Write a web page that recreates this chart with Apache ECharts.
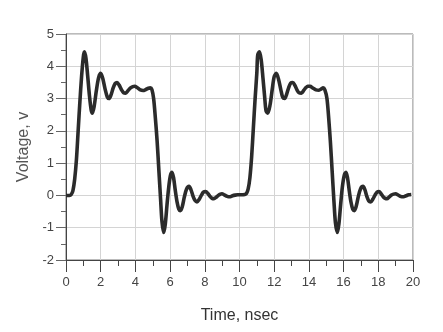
<!DOCTYPE html>
<html><head><meta charset="utf-8">
<script src="https://cdn.jsdelivr.net/npm/echarts@6/dist/echarts.min.js"></script>
<style>html,body{margin:0;padding:0;background:#fff}#c{width:443px;height:332px}</style>
</head><body><div id="c"></div>
<script>
var timeNs = [0,0.2,0.3,0.4,0.5,0.6,0.7,0.8,0.9,1.0,1.06,1.15,1.25,1.35,1.45,1.52,1.62,1.75,1.88,2.0,2.12,2.25,2.38,2.48,2.6,2.72,2.84,2.94,3.06,3.2,3.32,3.44,3.58,3.72,3.85,3.96,4.1,4.25,4.44,4.6,4.75,4.86,4.95,5.05,5.15,5.25,5.35,5.45,5.53,5.63,5.72,5.82,5.92,6.02,6.11,6.2,6.3,6.4,6.5,6.59,6.7,6.82,6.95,7.09,7.2,7.32,7.44,7.55,7.68,7.8,7.92,8.05,8.18,8.3,8.42,8.53,8.65,8.78,8.9,8.99,9.12,9.25,9.36,9.47,9.6,9.75,9.9,10.1,10.3,
10.4,10.5,10.6,10.7,10.8,10.9,11.0,11.05,11.15,11.25,11.35,11.45,11.53,11.63,11.76,11.89,12.0,12.12,12.25,12.38,12.49,12.6,12.72,12.84,12.95,13.07,13.2,13.32,13.43,13.57,13.71,13.83,13.93,14.07,14.22,14.41,14.58,14.72,14.82,14.92,15.04,15.14,15.24,15.34,15.44,15.53,15.64,15.73,15.83,15.93,16.04,16.14,16.23,16.33,16.43,16.53,16.62,16.73,16.85,16.98,17.12,17.23,17.34,17.45,17.56,17.69,17.81,17.93,18.04,18.16,18.28,18.4,18.5,18.62,18.76,18.88,19.0,19.12,19.24,19.35,19.46,19.6,19.75,19.9];
var voltage = [0,0,0.03,0.15,0.5,1.1,2.0,2.9,3.7,4.3,4.45,4.25,3.7,3.1,2.65,2.55,2.75,3.25,3.65,3.78,3.62,3.3,3.05,3.0,3.12,3.33,3.47,3.5,3.42,3.27,3.18,3.17,3.25,3.33,3.37,3.38,3.34,3.28,3.25,3.28,3.32,3.33,3.28,3.0,2.4,1.7,0.8,-0.1,-0.8,-1.15,-0.9,-0.3,0.25,0.62,0.72,0.55,0.15,-0.2,-0.42,-0.47,-0.35,-0.05,0.2,0.28,0.18,-0.02,-0.16,-0.2,-0.12,0.0,0.1,0.12,0.06,-0.03,-0.09,-0.1,-0.06,0.0,0.04,0.05,0.02,-0.02,-0.04,-0.04,-0.01,0.01,0.02,0.02,0.03,
0.06,0.2,0.55,1.2,2.1,3.0,3.8,4.35,4.45,4.2,3.65,3.05,2.62,2.55,2.8,3.3,3.68,3.78,3.6,3.28,3.04,3.0,3.14,3.35,3.48,3.5,3.4,3.26,3.18,3.17,3.26,3.34,3.38,3.38,3.33,3.27,3.26,3.3,3.33,3.27,3.0,2.4,1.65,0.75,-0.15,-0.85,-1.15,-0.88,-0.28,0.27,0.63,0.72,0.53,0.13,-0.22,-0.43,-0.47,-0.33,-0.03,0.21,0.28,0.17,-0.03,-0.17,-0.2,-0.11,0.01,0.1,0.12,0.05,-0.04,-0.09,-0.1,-0.05,0.01,0.04,0.05,0.02,-0.02,-0.04,-0.04,-0.01,0.02,0.03];
var xTicks = [0,2,4,6,8,10,12,14,16,18,20];
var yTicks = [-2,-1,0,1,2,3,4,5];

var pts = timeNs.map(function(t,i){return [t, voltage[i]];});
var FF = "'Liberation Sans',Arial,sans-serif";
var chart = echarts.init(document.getElementById('c'), null, {renderer:'canvas'});
chart.setOption({
  backgroundColor:'#fff',
  animation:false,
  grid:{left:66,right:30,top:34,bottom:72,show:true,borderColor:'#777',borderWidth:1,backgroundColor:'transparent'},
  xAxis:{type:'value',min:xTicks[0],max:xTicks[xTicks.length-1],interval:2,
    name:'Time, nsec',nameLocation:'middle',nameGap:48,
    nameTextStyle:{fontFamily:FF,fontSize:16,color:'#333'},
    axisLine:{show:true,onZero:false,lineStyle:{color:'#444',width:1}},
    axisTick:{show:true,length:12,lineStyle:{color:'#444'}},
    minorTick:{show:true,splitNumber:2,length:6,lineStyle:{color:'#444'}},
    axisLabel:{margin:16,fontFamily:FF,fontSize:13,color:'#444'},
    splitLine:{show:true,lineStyle:{color:'#d4d4d4',width:1}}},
  yAxis:{type:'value',min:yTicks[0],max:yTicks[yTicks.length-1],interval:1,
    name:'Voltage, v',nameLocation:'middle',nameGap:27,nameRotate:90,
    nameTextStyle:{fontFamily:FF,fontSize:16,color:'#555'},
    axisLine:{show:true,onZero:false,lineStyle:{color:'#444',width:1}},
    axisTick:{show:true,length:10,lineStyle:{color:'#666'}},
    minorTick:{show:true,splitNumber:2,length:5,lineStyle:{color:'#666'}},
    axisLabel:{margin:12,fontFamily:FF,fontSize:13,color:'#444'},
    splitLine:{show:true,lineStyle:{color:'#d4d4d4',width:1}}},
  series:[{type:'line',data:pts,showSymbol:false,smooth:0.3,
    lineStyle:{color:'#2b2b2b',width:3.6},clip:true}]
});
</script></body></html>
